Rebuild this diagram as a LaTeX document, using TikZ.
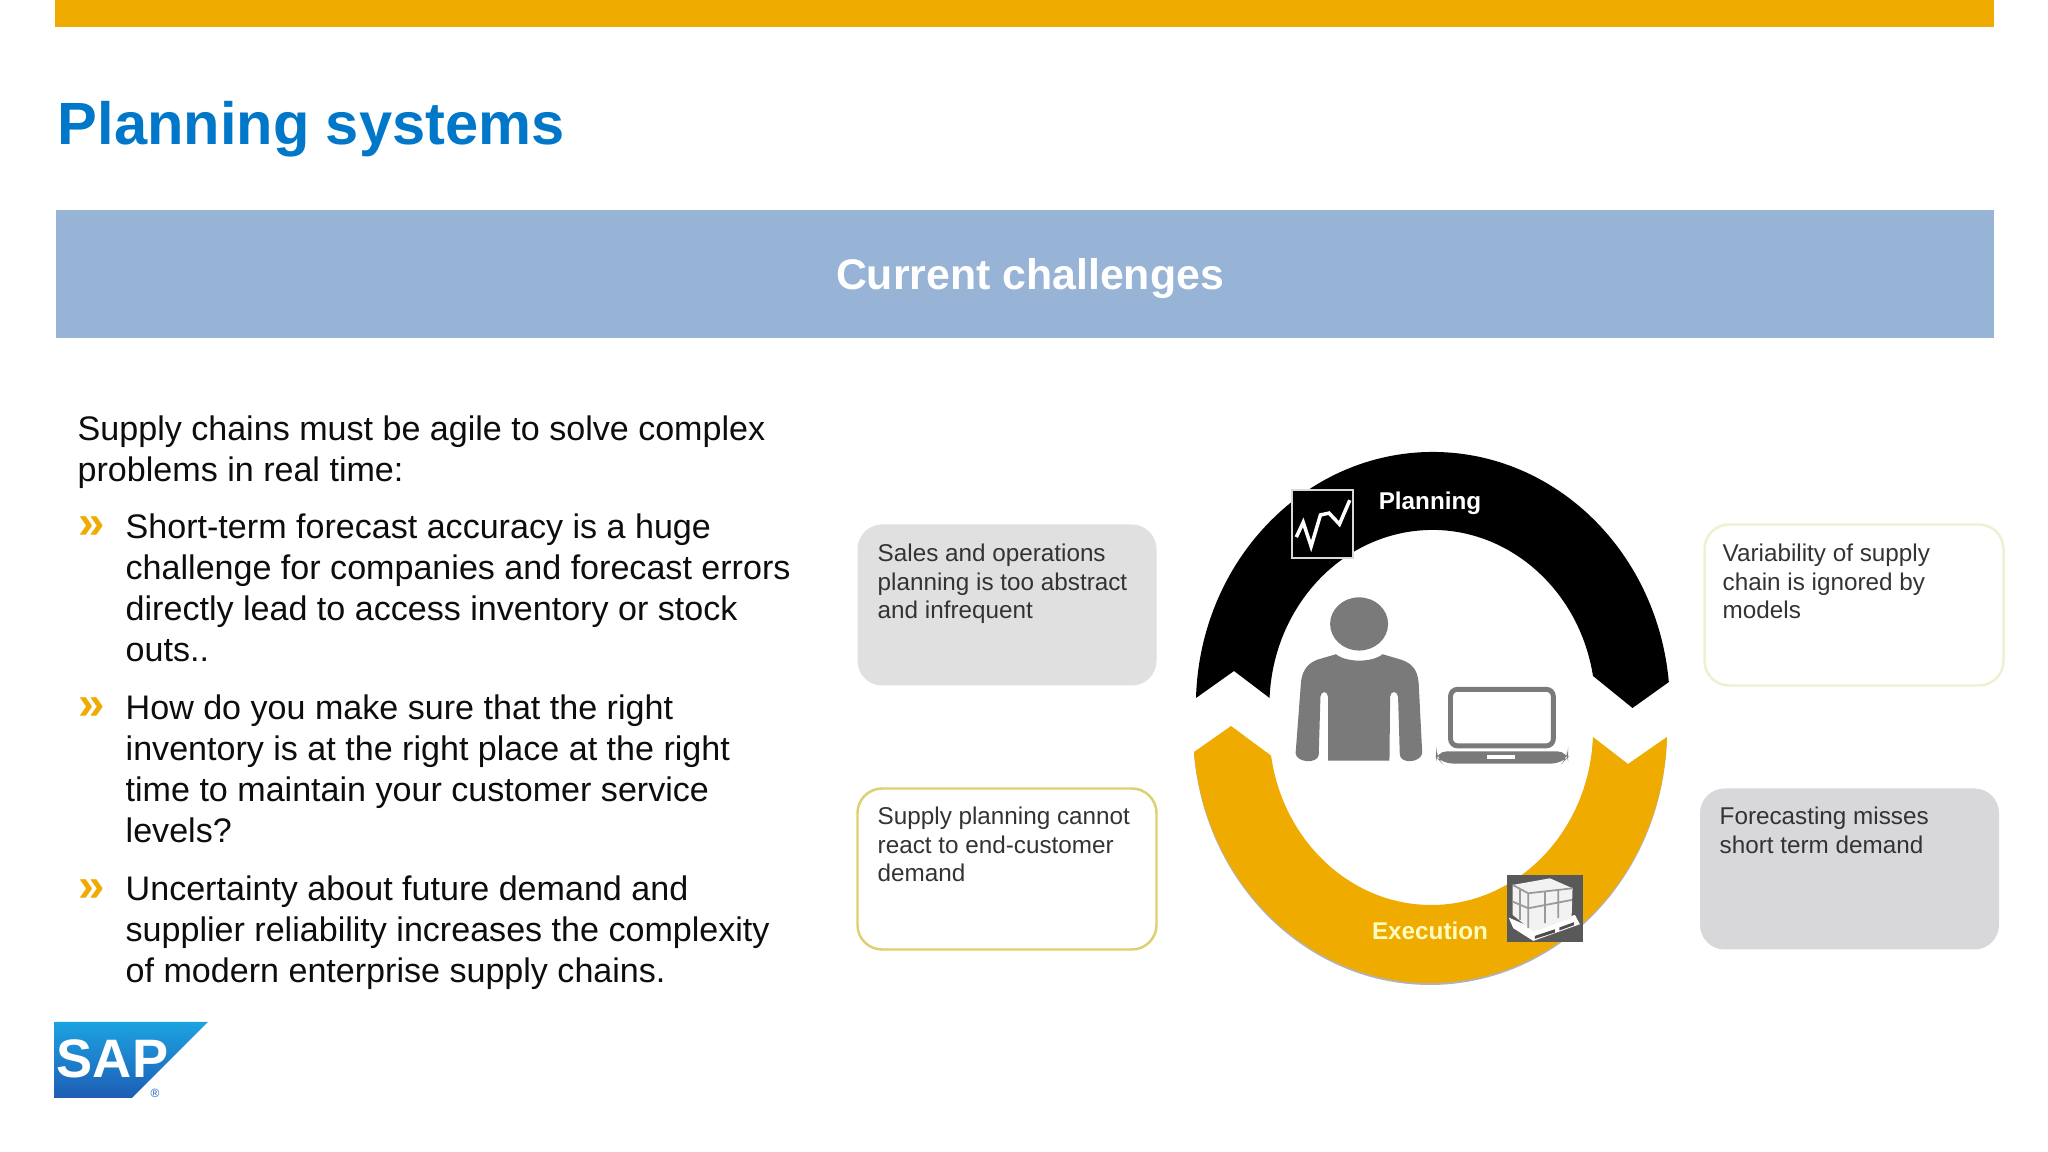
\documentclass[tikz,border=0pt]{standalone}
\usepackage{fontspec}
\setmainfont{Liberation Sans}
\usepackage{tikz}
\definecolor{sapgold}{HTML}{EFAB00}
\definecolor{sapblue}{HTML}{0077C8}
\definecolor{bandblue}{HTML}{97B3D6}
\definecolor{boxgrey}{HTML}{E0E0E0}
\definecolor{boxdark}{HTML}{D8D8DB}
\definecolor{icongrey}{HTML}{7A7A7A}
\definecolor{logotop}{HTML}{1CA3E0}
\definecolor{logobot}{HTML}{1E5DB5}
\definecolor{lineolive}{HTML}{DDD070}
\definecolor{linepale}{HTML}{F0F0D0}
\tikzset{
	bodytext/.style={anchor=north west,inner sep=0pt,align=left,font=\fontsize{9.69pt}{11.66pt}\selectfont,text=black!95},
	chev/.style={inner sep=0pt,font=\fontsize{13.5pt}{13.5pt}\selectfont\bfseries,text=sapgold},
	cbox/.style={rounded corners=7pt,minimum width=299*0.01cm,minimum height=161*0.01cm,inner sep=0pt},
	ctext/.style={anchor=north west,inner sep=0pt,align=left,font=\fontsize{6.9pt}{8.2pt}\selectfont,text=black!80},
	arclabel/.style={inner sep=0pt,font=\fontsize{6.9pt}{8pt}\selectfont\bfseries}
}
\begin{document}
\begin{tikzpicture}[x=0.01cm,y=0.01cm]
	\useasboundingbox (0,0) rectangle (2048,1152);
	\fill[white] (0,0) rectangle (2048,1152);

	% top bar and heading
	\fill[sapgold] (55,1125) rectangle (1994,1152);
	\node (title) [anchor=west,inner sep=0pt,text=sapblue,font=\fontsize{16.95pt}{17pt}\selectfont\bfseries] at (57,1023) {Planning systems};
	\fill[bandblue] (56,814) rectangle (1994,942);
	\node (band) [text=white,inner sep=0pt,font=\fontsize{12.18pt}{12.3pt}\selectfont\bfseries] at (1030,873) {Current challenges};

	% left text
	\node (intro) [bodytext] at (77,737) {Supply chains must be agile to solve complex\\problems in real time:};
	\node (ch1) [chev] at (92,624.5) {»};
	\node (item1) [bodytext] at (125,639) {Short-term forecast accuracy is a huge\\challenge for companies and forecast errors\\directly lead to access inventory or stock\\outs..};
	\node (ch2) [chev] at (92,443) {»};
	\node (item2) [bodytext] at (125,458) {How do you make sure that the right\\inventory is at the right place at the right\\time to maintain your customer service\\levels?};
	\node (ch3) [chev] at (92,261.5) {»};
	\node (item3) [bodytext] at (125,277) {Uncertainty about future demand and\\supplier reliability increases the complexity\\of modern enterprise supply chains.};

	% logo
	\shade[top color=logotop,bottom color=logobot] (54,54) -- (54,130) -- (208,130) -- (132,54) -- cycle;
	\node (sap) [text=white,inner sep=0pt,font=\fontsize{15.4pt}{15.4pt}\selectfont\bfseries] at (112.5,93) {SAP};
	\node (regmark) [text=logobot,inner sep=0pt,font=\fontsize{3.4pt}{4pt}\selectfont] at (155,59) {®};

	% side boxes
	\node (sales) [cbox,fill=boxgrey] at (1007,547) {};
	\node (supply) [cbox,draw=lineolive,line width=0.7pt,fill=white] at (1007,283) {};
	\node (vary) [cbox,draw=linepale,line width=0.7pt,fill=white] at (1854,547) {};
	\node (fore) [cbox,fill=boxdark] at (1849.5,283) {};
	\node (salestext) [ctext] at (877,609) {Sales and operations\\planning is too abstract\\and infrequent};
	\node (supplytext) [ctext] at (877,346) {Supply planning cannot\\react to end-customer\\demand};
	\node (varytext) [ctext] at (1722,609) {Variability of supply\\chain is ignored by\\models};
	\node (foretext) [ctext] at (1719,346) {Forecasting misses\\short term demand};

	% cycle arcs
	\fill[black!30] (1194,398) arc[start angle=185.2,end angle=358.2,x radius=237,y radius=254] -- (1628,386) -- (1593,413) arc[start angle=357.4,end angle=188.7,x radius=162,y radius=176] -- (1231,424) -- cycle;
	\fill[sapgold] (1194,400) arc[start angle=185.2,end angle=358.2,x radius=237,y radius=254] -- (1628,388) -- (1593,415) arc[start angle=357.4,end angle=188.7,x radius=162,y radius=176] -- (1231,426) -- cycle;
	\fill[black] (1196,454) arc[start angle=178.2,end angle=5.4,x radius=237,y radius=254] -- (1632.5,444) -- (1593,476) arc[start angle=9.8,end angle=177.4,x radius=163,y radius=176] -- (1234,481) -- cycle;
	\node (plan) [arclabel,text=white] at (1430,649) {Planning};
	\node (exec) [arclabel,text=yellow!25!white] at (1430,221) {Execution};

	% icons, written in the scale of the crop
	\begin{scope}[shift={(1160,722)},x=0.003444cm,y=-0.0037cm]
		% chart
		\draw[fill=black,draw=black!15,line width=0.6pt] (383,163) rectangle (560,347);
		\draw[white,line width=1pt] (395,290) -- (415,250) -- (438,315) -- (465,230) -- (490,225) -- (520,255) -- (550,190);
		% person
		\fill[icongrey] (577,525) ellipse[x radius=84,y radius=72];
		\fill[icongrey] (510,607) .. controls (540,630) and (615,630) .. (645,607) -- (700,622) .. controls (740,635) and (748,660) .. (750,690) -- (760,875) .. controls (755,900) and (700,905) .. (695,880) -- (690,722) .. controls (688,705) and (668,705) .. (667,722) -- (665,895) -- (487,895) -- (487,722) .. controls (485,705) and (467,705) .. (465,722) -- (460,880) .. controls (455,905) and (395,900) .. (393,875) -- (408,690) .. controls (410,660) and (420,635) .. (455,622) -- cycle;
		% laptop
		\draw[icongrey,line width=1.4pt,rounded corners=2pt] (842,702) rectangle (1140,855);
		\fill[icongrey,rounded corners=3pt] (800,870) -- (1183,870) -- (1183,885) -- (1165,903) -- (818,903) -- (800,885) -- cycle;
		\fill[white] (947,881) rectangle (1030,890);
	\end{scope}
	% pallet
	\begin{scope}[shift={(1500,287)},x=0.003333cm,y=-0.003333cm]
		\fill[black!65] (22,30) rectangle (248,232);
		\fill[white] (26,158) -- (100,190) -- (225,150) -- (240,178) -- (100,228) -- (40,190) -- cycle;
		\fill[black!70] (105,213) -- (165,193) -- (165,203) -- (105,222) -- cycle (178,188) -- (222,172) -- (222,181) -- (178,197) -- cycle;
		\fill[black!5] (38,60) -- (150,40) -- (218,70) -- (215,160) -- (100,200) -- (38,150) -- cycle;
		\draw[black!40,line width=0.5pt] (38,60) -- (85,85) -- (218,70) (38,110) -- (85,130) -- (216,105) (85,85) -- (85,190) (60,72) -- (60,165) (135,78) -- (135,175) (175,74) -- (175,160);
	\end{scope}
\end{tikzpicture}
\end{document}
